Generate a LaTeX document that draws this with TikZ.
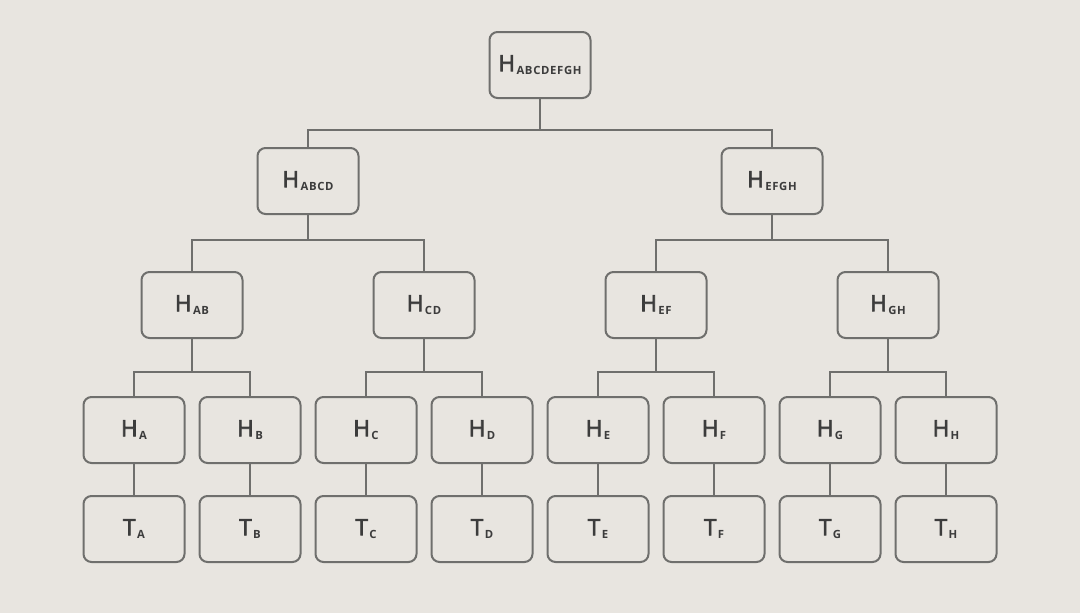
\documentclass[tikz,border=0pt]{standalone}
\usepackage{fontspec}
\setmainfont{Open Sans}
\newfontfamily\mainlbl{Open Sans}[FakeBold=3]
\newfontfamily\sublbl{Open Sans Bold}[LetterSpace=6]
\definecolor{bg}{HTML}{E8E5E0}
\definecolor{ln}{HTML}{6F6F6D}
\definecolor{tx}{HTML}{3C3C3C}
\newcommand{\hlab}[2]{{\mainlbl\fontsize{22.5}{22.5}\selectfont #1}\kern1.5pt\raisebox{-3.5pt}{\sublbl\fontsize{11.3}{11.3}\selectfont #2}}
\begin{document}
\begin{tikzpicture}[x=1pt,y=-1pt,
  hbox/.style={draw=ln, line width=2pt, rounded corners=8pt, minimum width=101pt, minimum height=66pt, text=tx, inner sep=0pt},
  edge/.style={draw=ln, line width=2pt}]
\fill[bg] (0,0) rectangle (1080,613);
\useasboundingbox (0,0) rectangle (1080,613);
% level 0
\node[hbox] (r) at (540,65) {\hlab{H}{ABCDEFGH}};
% level 1
\node[hbox] (abcd) at (308,181) {\hlab{H}{ABCD}};
\node[hbox] (efgh) at (772,181) {\hlab{H}{EFGH}};
% level 2
\node[hbox] (ab) at (192,305) {\hlab{H}{AB}};
\node[hbox] (cd) at (424,305) {\hlab{H}{CD}};
\node[hbox] (ef) at (656,305) {\hlab{H}{EF}};
\node[hbox] (gh) at (888,305) {\hlab{H}{GH}};
% level 3 and 4
\foreach \n/\x in {A/134,B/250,C/366,D/482,E/598,F/714,G/830,H/946}{
  \node[hbox] (h\n) at (\x,430) {\hlab{H}{\n}};
  \node[hbox] (t\n) at (\x,529) {\hlab{T}{\n}};
  \draw[edge] (h\n.south) -- (t\n.north);
}
% connectors
\draw[edge] (r.south) -- (r.south |- 0,130);
\draw[edge, line cap=rect] (abcd.north |- 0,130) -- (efgh.north |- 0,130);
\draw[edge] (abcd.north |- 0,130) -- (abcd.north);
\draw[edge] (efgh.north |- 0,130) -- (efgh.north);
\foreach \p/\a/\b/\y in {abcd/ab/cd/240, efgh/ef/gh/240, ab/hA/hB/372, cd/hC/hD/372, ef/hE/hF/372, gh/hG/hH/372}{
  \draw[edge] (\p.south) -- (\p.south |- 0,\y);
  \draw[edge, line cap=rect] (\a.north |- 0,\y) -- (\b.north |- 0,\y);
  \draw[edge] (\a.north |- 0,\y) -- (\a.north);
  \draw[edge] (\b.north |- 0,\y) -- (\b.north);
}
\end{tikzpicture}
\end{document}
